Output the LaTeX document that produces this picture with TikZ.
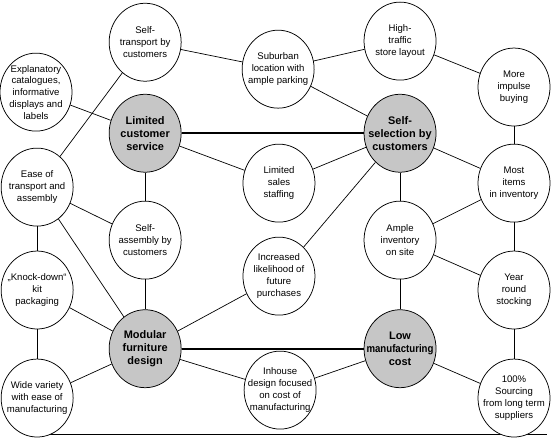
\documentclass[tikz,border=0pt]{standalone}
\usepackage{fontspec}
\setmainfont{Liberation Sans}
\usetikzlibrary{shapes.geometric}
\definecolor{coregray}{RGB}{198,198,198}

\begin{document}
\begin{tikzpicture}[scale = 1,
  bubble/.style = {draw, ellipse, fill = white, line width = 0.75pt, minimum width = 2.54cm, minimum height = 2.75cm, inner sep = 0pt},
  core/.style = {bubble, fill = coregray},
  txt/.style = {align = center, inner sep = 0pt, font = \fontsize{9.6}{11.8}\selectfont},
  boldtxt/.style = {align = center, inner sep = 0pt, font = \fontsize{11}{13}\selectfont\bfseries},
  link/.style = {black, line width = 0.7pt},
  mainlink/.style = {black, line width = 2.2pt}]
\useasboundingbox (0, 0) rectangle (19.47, 15.42);
\coordinate (baseL) at (1.13, 0.11);
\coordinate (baseR) at (19.30, 0.11);
\draw[link] (baseL) -- (baseR);
\node[bubble, label = {[txt]center:{Self-\\transport by\\customers}}] (st) at (5.12, 13.93){};
\node[bubble, label = {[txt]center:{Explanatory\\catalogues,\\informative\\displays and\\labels}}] (ex) at (1.27, 12.17){};
\node[core, label = {[boldtxt]center:{Limited\\customer\\service}}] (lcs) at (5.12, 10.72){};
\node[bubble, label = {[txt]center:{Ease of\\transport and\\assembly}}] (ease) at (1.31, 8.82){};
\node[bubble, label = {[txt]center:{Self-\\assembly by\\customers}}] (sa) at (5.12, 6.95){};
\node[bubble, label = {[txt]center:{„Knock-down“\\kit\\packaging}}] (kd) at (1.31, 5.19){};
\node[core, label = {[boldtxt]center:{Modular\\furniture\\design}}] (mfd) at (5.12, 3.12){};
\node[bubble, label = {[txt]center:{Wide variety\\with ease of\\manufacturing}}] (wv) at (1.31, 1.38){};
\node[bubble, label = {[txt]center:{Suburban\\location with\\ample parking}}] (sub) at (9.81, 12.98){};
\node[bubble, label = {[txt]center:{Limited\\sales\\staffing}}] (lss) at (9.84, 8.96){};
\node[bubble, label = {[txt]center:{Increased\\likelihood of\\future\\purchases}}] (inc) at (9.84, 5.68){};
\node[bubble, label = {[txt]center:{Inhouse\\design focused\\on cost of\\manufacturing}}] (inh) at (9.88, 1.66){};
\node[bubble, label = {[txt]center:{High-\\traffic\\store layout}}] (ht) at (14.11, 13.97){};
\node[core, label = {[boldtxt]center:{Self-\\selection by\\customers}}] (ssc) at (14.11, 10.72){};
\node[bubble, label = {[txt]center:{More\\impulse\\buying}}] (imp) at (18.13, 12.35){};
\node[bubble, label = {[txt]center:{Most\\items\\in inventory}}] (most) at (18.13, 8.96){};
\node[bubble, label = {[txt]center:{Ample\\inventory\\on site}}] (ample) at (14.11, 6.95){};
\node[bubble, label = {[txt]center:{Year\\round\\stocking}}] (year) at (18.13, 5.19){};
\node[core, label = {[boldtxt]center:{Low\\\scalebox{0.88}[1]{manufacturing}\\cost}}] (low) at (14.11, 3.12){};
\node[bubble, label = {[txt]center:{100\%\\Sourcing\\from long term\\suppliers}}] (src) at (18.13, 1.38){};
\draw[mainlink] (lcs) -- (ssc);
\draw[mainlink] (mfd) -- (low);
\draw[link] (st) -- (sub);
\draw[link] (st) -- (ease);
\draw[link] (ex) -- (lcs);
\draw[link] (lcs) -- (lss);
\draw[link] (lcs) -- (sa);
\draw[link] (ease) -- (sa);
\draw[link] (ease) -- (mfd);
\draw[link] (ease) -- (kd);
\draw[link] (kd) -- (mfd);
\draw[link] (kd) -- (wv);
\draw[link] (wv) -- (mfd);
\draw[link] (sa) -- (mfd);
\draw[link] (mfd) -- (inc);
\draw[link] (mfd) -- (inh);
\draw[link] (inh) -- (low);
\draw[link] (sub) -- (ssc);
\draw[link] (sub) -- (ht);
\draw[link] (ht) -- (imp);
\draw[link] (imp) -- (most);
\draw[link] (ssc) -- (most);
\draw[link] (ssc) -- (lss);
\draw[link] (ssc) -- (inc);
\draw[link] (ssc) -- (ample);
\draw[link] (ample) -- (most);
\draw[link] (ample) -- (year);
\draw[link] (most) -- (year);
\draw[link] (year) -- (src);
\draw[link] (low) -- (src);
\draw[link] (low) -- (ample);
\end{tikzpicture}
\end{document}
